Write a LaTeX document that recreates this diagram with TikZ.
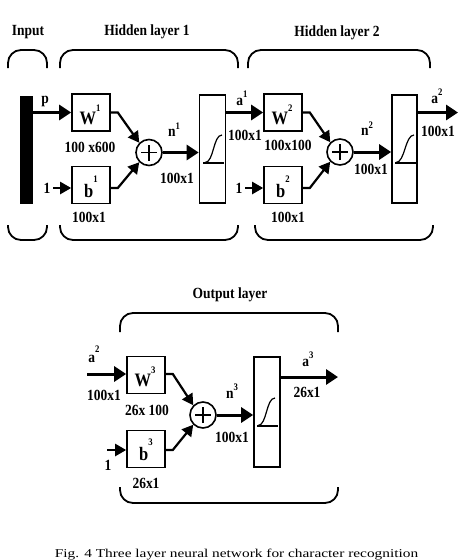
\documentclass[tikz,border=0pt]{standalone}
\usepackage{fontspec}
\usepackage{graphicx}
\setmainfont{Liberation Serif}
\usetikzlibrary{arrows.meta}
\newcommand\cnd[1]{\scalebox{0.87}[1]{#1}}
\newcommand\sps[2]{\raisebox{#1}{\fontsize{10}{10}\selectfont #2}}
\begin{document}
\begin{tikzpicture}[x=1pt,y=-1pt,
  blk/.style={draw, line width=1.6pt, minimum width=38pt, minimum height=37pt, inner sep=0pt},
  blktxt/.style={anchor=base, inner sep=0pt, font=\fontsize{19}{19}\selectfont\bfseries},
  actbox/.style={draw, line width=1.6pt, minimum width=26pt, minimum height=108pt, inner sep=0pt},
  sumc/.style={draw, circle, line width=1.6pt, minimum size=26pt, inner sep=0pt,
    path picture={\draw[line width=1.6pt] ([xshift=-8pt]path picture bounding box.center) -- ([xshift=8pt]path picture bounding box.center);
                  \draw[line width=1.6pt] ([yshift=-8pt]path picture bounding box.center) -- ([yshift=8pt]path picture bounding box.center);}},
  arr/.style={line width=3pt, -{Triangle[length=12pt,width=15pt]}},
  arrs/.style={line width=2.2pt, -{Triangle[length=11pt,width=12pt]}},
  con/.style={line width=2.2pt, -{Triangle[length=11pt,width=12pt]}},
  lbl/.style={font=\fontsize{15.5}{15.5}\selectfont\bfseries, inner sep=0pt},
  lblb/.style={lbl, anchor=base},
  ttl/.style={font=\fontsize{15.5}{15.5}\selectfont\bfseries, inner sep=0pt},
  brk/.style={line width=1.8pt, rounded corners=13pt},
  sigl/.style={line width=1.2pt}]
\useasboundingbox (0,0) rectangle (474,560);

% titles
\node[ttl] (tin) at (28,32) {\cnd{Input}};
\node[ttl] (th1) at (147,32) {\cnd{Hidden layer 1}};
\node[ttl] (th2) at (337,33) {\cnd{Hidden layer 2}};
\node[ttl] (tout) at (230,295) {\cnd{Output layer}};

% brackets
\draw[brk] (8,68) -- (8,50) -- (47,50) -- (47,68);
\draw[brk] (8,225) -- (8,240) -- (47,240) -- (47,225);
\draw[brk] (60,68) -- (60,50) -- (238,50) -- (238,68);
\draw[brk] (60,225) -- (60,240) -- (238,240) -- (238,225);
\draw[brk] (248,68) -- (248,50) -- (430,50) -- (430,68);
\draw[brk] (255,225) -- (255,240) -- (433,240) -- (433,225);
\draw[brk] (120,332) -- (120,313) -- (338,313) -- (338,332);
\draw[brk] (120,487) -- (120,503) -- (338,503) -- (338,487);

% layer 1
\node[fill=black, minimum width=13pt, minimum height=108pt, inner sep=0pt] (inp) at (26.5,149.5) {};
\node[blk] (w1) at (91,112.5) {};
\node[blk] (b1) at (91,185) {};
\node[blktxt] (w1t) at (90,124) {\cnd{W\sps{13pt}{1}}};
\node[blktxt] (b1t) at (91,197) {\cnd{b\sps{15pt}{1}}};
\node[sumc] (s1) at (149,152.5) {};
\node[actbox] (f1) at (212.5,149) {};
\draw[sigl] (203,163) -- (224,163);
\draw[sigl] (205,162.5) .. controls (214,162.5) and (213,135) .. (222,135);
\coordinate (one1) at (53,188);

\draw[arr] (inp.east |- w1) -- (w1.west);
\draw[arrs] (one1) -- (one1 -| b1.west);
\draw[con] (w1.east) -- ++(7,0) -- (s1.135);
\draw[con] (b1.east |- one1) -- ++(7,0) -- (s1.225);
\draw[arr] (s1.east) -- (f1.west |- s1);

\node[lblb] (lp) at (45,103) {\cnd{p}};
\node[lbl] (l1a) at (47,188) {\cnd{1}};
\node[lbl] (lw1) at (90,147.5) {\cnd{100 x600}};
\node[lbl] (lb1) at (89,217) {\cnd{100x1}};
\node[lblb] (ln1) at (174,136) {\cnd{n\sps{7pt}{1}}};
\node[lbl] (ln1d) at (177,178) {\cnd{100x1}};

% layer 2
\node[blk] (w2) at (283,112.5) {};
\node[blk] (b2) at (283,185) {};
\node[blktxt] (w2t) at (282,124) {\cnd{W\sps{13pt}{2}}};
\node[blktxt] (b2t) at (283,197) {\cnd{b\sps{15pt}{2}}};
\node[sumc] (s2) at (340,152) {};
\node[actbox, minimum width=25pt] (f2) at (404.5,149) {};
\draw[sigl] (395,163) -- (416,163);
\draw[sigl] (396,162.5) .. controls (405,162.5) and (405,135) .. (414,135);
\coordinate (one2) at (245,188);
\coordinate (out2) at (458,112.5);

\draw[arr] (f1.east |- w2) -- (w2.west);
\draw[arrs] (one2) -- (one2 -| b2.west);
\draw[con] (w2.east) -- ++(7,0) -- (s2.135);
\draw[con] (b2.east |- one2) -- ++(7,0) -- (s2.225);
\draw[arr] (s2.east) -- (f2.west |- s2);
\draw[arr] (f2.east |- out2) -- (out2);

\node[lblb] (la1) at (242,105) {\cnd{a\sps{8pt}{1}}};
\node[lbl] (la1d) at (245,135) {\cnd{100x1}};
\node[lbl] (lw2) at (288,145) {\cnd{100x100}};
\node[lbl] (l1b) at (239,188) {\cnd{1}};
\node[lbl] (lb2) at (288,217) {\cnd{100x1}};
\node[lblb] (ln2) at (367,135) {\cnd{n\sps{7pt}{2}}};
\node[lbl] (ln2d) at (371,169) {\cnd{100x1}};
\node[lblb] (la2) at (437,103) {\cnd{a\sps{8pt}{2}}};
\node[lbl] (la2d) at (438,131) {\cnd{100x1}};

% output layer
\node[blk] (w3) at (146,375) {};
\node[blk] (b3) at (146,449) {};
\node[blktxt] (w3t) at (145,386) {\cnd{W\sps{13pt}{3}}};
\node[blktxt] (b3t) at (146,460) {\cnd{b\sps{15pt}{3}}};
\node[sumc] (s3) at (203,415) {};
\node[actbox, minimum height=110pt] (f3) at (267,412) {};
\draw[sigl] (257,426) -- (278,426);
\draw[sigl] (258,425.5) .. controls (267,425.5) and (266,398) .. (275,398);
\coordinate (in3) at (87,374);
\coordinate (one3) at (107,450);
\coordinate (out3) at (338,377);

\draw[arr] (in3) -- (in3 -| w3.west);
\draw[arrs] (one3) -- (one3 -| b3.west);
\draw[con] (w3.east |- in3) -- ++(7,0) -- (s3.135);
\draw[con] (b3.east |- one3) -- ++(7,0) -- (s3.225);
\draw[arr] (s3.east) -- (f3.west |- s3);
\draw[arr] (f3.east |- out3) -- (out3);

\node[lblb] (la2o) at (94,362) {\cnd{a\sps{10pt}{2}}};
\node[lbl] (la2od) at (104,395) {\cnd{100x1}};
\node[lbl] (lw3) at (147,410) {\cnd{26x 100}};
\node[lbl] (l1c) at (108,465) {\cnd{1}};
\node[lbl] (lb3) at (146,483) {\cnd{26x1}};
\node[lblb] (ln3) at (232,398) {\cnd{n\sps{8pt}{3}}};
\node[lbl] (ln3d) at (232,437) {\cnd{100x1}};
\node[lblb] (la3) at (308,366) {\cnd{a\sps{8pt}{3}}};
\node[lbl] (la3d) at (307,392) {\cnd{26x1}};

% caption
\node[anchor=base, inner sep=0pt, font=\fontsize{12}{12}\selectfont] (cap) at (236.5,557) {\scalebox{1.28}[1]{Fig. 4 Three layer neural network for character recognition}};
\end{tikzpicture}
\end{document}
